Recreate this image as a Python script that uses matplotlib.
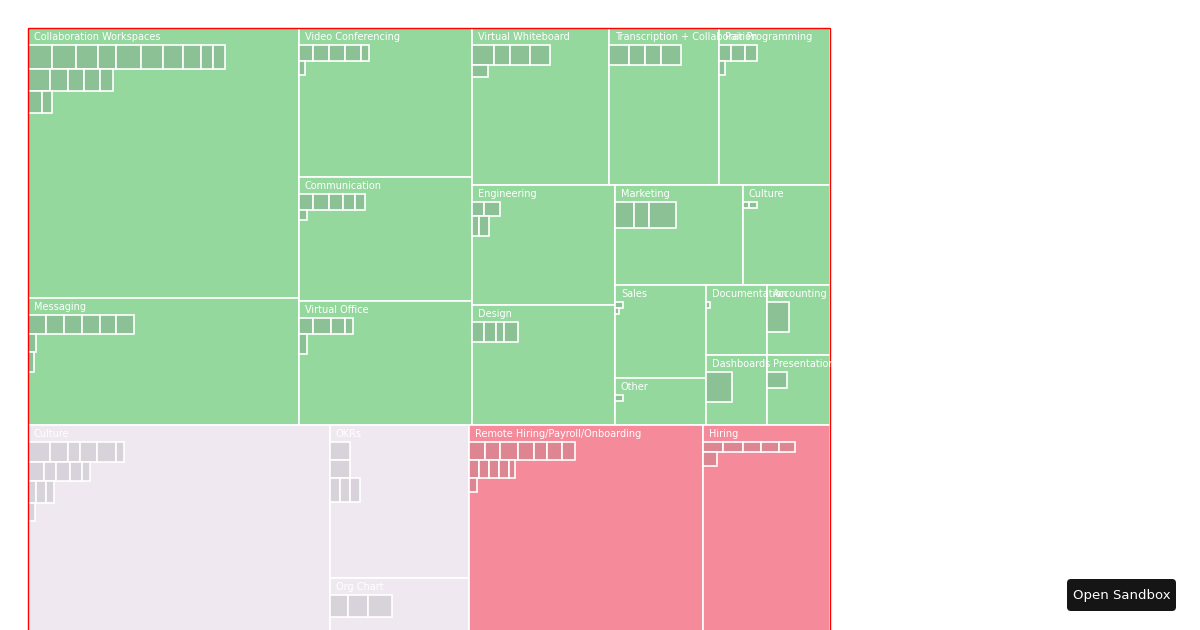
import matplotlib
matplotlib.use("Agg")
import matplotlib.pyplot as plt
from matplotlib.patches import Rectangle, FancyBboxPatch

# ---- data ----
GREEN, LAV, PINK = "#94d89e", "#efe8f0", "#f48a9a"
GREEN_D, LAV_D, PINK_D = "#8cc095", "#d8d3da", "#de8592"

tree = ("root", "v", [
    ("top", "h", [
        ("c1", "v", [("Collaboration Workspaces", 732, GREEN), ("Messaging", 344, GREEN)]),
        ("c2", "v", [("Video Conferencing", 258, GREEN), ("Communication", 215, GREEN),
                     ("Virtual Office", 215, GREEN)]),
        ("c3", "v", [
            ("c3t", "h", [("Virtual Whiteboard", 215, GREEN), ("Transcription + Collaboration", 173, GREEN),
                          ("Pair Programming", 174, GREEN)]),
            ("c3b", "h", [
                ("c3bl", "v", [("Engineering", 172, GREEN), ("Design", 172, GREEN)]),
                ("c3br", "v", [
                    ("r1", "h", [("Marketing", 128, GREEN), ("Culture", 87, GREEN)]),
                    ("r2", "h", [
                        ("s1", "v", [("Sales", 85, GREEN), ("Other", 43, GREEN)]),
                        ("s2", "v", [("Documentation", 43, GREEN), ("Dashboards", 43, GREEN)]),
                        ("s3", "v", [("Accounting", 44, GREEN), ("Presentation", 44, GREEN)]),
                    ]),
                ]),
            ]),
        ]),
    ]),
    ("bottom", "h", [
        ("Culture ", 785, LAV),
        ("b2", "v", [("OKRs", 213, LAV), ("Org Chart", 149, LAV)]),
        ("Remote Hiring/Payroll/Onboarding", 608, PINK),
        ("Hiring", 330, PINK),
    ]),
])

subitems = {
    "Collaboration Workspaces": [(24, [24, 24, 22, 18, 25, 22, 20, 18, 12, 12]), (22, [22, 18, 16, 16, 13]), (22, [14, 10])],
    "Messaging": [(19, [18, 18, 18, 18, 16, 18]), (18, [8]), (20, [6])],
    "Video Conferencing": [(16, [14, 16, 16, 16, 8]), (14, [6])],
    "Communication": [(16, [14, 16, 14, 12, 10]), (10, [8])],
    "Virtual Office": [(16, [14, 18, 14, 8]), (20, [8])],
    "Virtual Whiteboard": [(20, [22, 16, 20, 20]), (12, [16])],
    "Transcription + Collaboration": [(20, [20, 16, 16, 20])],
    "Pair Programming": [(16, [12, 14, 12]), (14, [6])],
    "Engineering": [(14, [12, 16]), (20, [7, 10])],
    "Design": [(20, [12, 12, 8, 14])],
    "Marketing": [(26, [19, 15, 27])],
    "Culture": [(6, [6, 8])],
    "Sales": [(6, [8]), (6, [4])],
    "Other": [(6, [8])],
    "Documentation": [(6, [4])],
    "Dashboards": [(30, [26])],
    "Accounting": [(30, [22])],
    "Presentation": [(16, [20])],
    "Culture ": [(20, [22, 18, 12, 17, 19, 8]), (19, [16, 12, 14, 12, 8]), (22, [8, 10, 8]), (18, [7])],
    "OKRs": [(18, [20]), (18, [20]), (24, [10, 10, 10])],
    "Org Chart": [(22, [18, 20, 24])],
    "Remote Hiring/Payroll/Onboarding": [(18, [16, 15, 18, 16, 13, 15, 13]), (18, [10, 10, 10, 10, 6]), (14, [8])],
    "Hiring": [(10, [20, 20, 18, 18, 16]), (14, [14])],
}
dark = {GREEN: GREEN_D, LAV: LAV_D, PINK: PINK_D}

X0, Y0, X1, Y1 = 28, 28, 830, 685


def total(node):
    if isinstance(node[1], str):
        return sum(total(c) for c in node[2])
    return node[1]


leaves = []


def layout(node, x, y, w, h):
    if not isinstance(node[1], str):
        leaves.append((node[0], node[2], x, y, w, h))
        return
    s = total(node)
    pos = 0
    for c in node[2]:
        f = total(c) / s
        if node[1] == "h":
            layout(c, x + pos * w, y, f * w, h)
        else:
            layout(c, x, y + pos * h, w, f * h)
        pos += f


layout(tree, X0, Y0, X1 - X0, Y1 - Y0)

fig = plt.figure(figsize=(12, 6.3), dpi=100)
ax = fig.add_axes([0, 0, 1, 1])
ax.set_xlim(0, 1200)
ax.set_ylim(630, 0)
ax.axis("off")

for name, col, x, y, w, h in leaves:
    ax.add_patch(Rectangle((x, y), w, h, facecolor=col, edgecolor="white", lw=1.2))
    clip = Rectangle((x, y), w - 1, h, facecolor="none", edgecolor="none")
    ax.add_patch(clip)
    t = ax.text(x + 6, y + 9, name.strip(), fontsize=7, color="white", va="center", ha="left")
    t.set_clip_path(clip)
    yy = y + 17
    for rh, widths in subitems.get(name, []):
        xx = x
        for bw in widths:
            ax.add_patch(Rectangle((xx, yy), bw, rh, facecolor=dark[col], edgecolor="white", lw=1.2))
            xx += bw
        yy += rh

ax.add_patch(Rectangle((X0, Y0), X1 - X0, Y1 - Y0, fill=False, edgecolor="red", lw=1))

ax.add_patch(FancyBboxPatch((1067, 579), 109, 32, boxstyle="round,pad=0,rounding_size=4",
                            facecolor="#151515", edgecolor="none"))
ax.text(1121.5, 595, "Open Sandbox", color="white", fontsize=9.5, ha="center", va="center")

fig.savefig("out.png", dpi=100)
